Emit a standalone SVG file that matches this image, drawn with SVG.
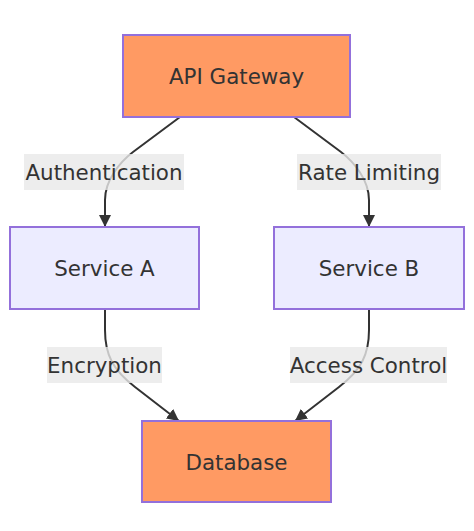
<svg xmlns="http://www.w3.org/2000/svg" width="474" height="531" viewBox="0 0 474 531">
<style>
.node rect{stroke:#9370DB;stroke-width:2}
.hot rect{fill:#FF9A63}
.svc rect{fill:#ECECFF}
text{font-family:"DejaVu Sans",Verdana,sans-serif;font-size:21.4px;fill:#333;text-anchor:middle;dominant-baseline:central}
.edge{fill:none;stroke:#333;stroke-width:2}
.lbl rect{fill:#e8e8e8;fill-opacity:0.8}
</style>
<defs>
<marker id="arr" viewBox="0 0 10 10" refX="10" refY="5" markerWidth="12" markerHeight="12" markerUnits="userSpaceOnUse" orient="auto">
<path d="M0,0 L10,5 L0,10 z" fill="#333"/>
</marker>
</defs>
<rect width="474" height="531" fill="#fff"/>
<g id="connectors">
<path class="edge" d="M180,117 L133,152 C120,162 105,180 105,200 L105,227" marker-end="url(#arr)"/>
<path class="edge" d="M294,117 L341,152 C354,162 369,180 369,200 L369,227" marker-end="url(#arr)"/>
<path class="edge" d="M105,309 L105,330 C105,355 113,370 135,387 L179,421" marker-end="url(#arr)"/>
<path class="edge" d="M369,309 L369,330 C369,355 361,370 339,387 L295,421" marker-end="url(#arr)"/>
</g>
<g id="labels">
<g id="label-auth" class="lbl"><rect x="24" y="154" width="160" height="36"/><text x="104" y="172">Authentication</text></g>
<g id="label-rate" class="lbl"><rect x="297" y="154" width="144" height="36"/><text x="369" y="172">Rate Limiting</text></g>
<g id="label-enc" class="lbl"><rect x="47" y="347" width="115" height="36"/><text x="104.5" y="365">Encryption</text></g>
<g id="label-acc" class="lbl"><rect x="290" y="347" width="157" height="36"/><text x="368.5" y="365">Access Control</text></g>
</g>
<g id="api-gateway" class="node hot"><rect x="123" y="35" width="227" height="82"/><text x="236.5" y="76">API Gateway</text></g>
<g id="service-a" class="node svc"><rect x="10" y="227" width="189" height="82"/><text x="104.5" y="268">Service A</text></g>
<g id="service-b" class="node svc"><rect x="274" y="227" width="190" height="82"/><text x="369" y="268">Service B</text></g>
<g id="database" class="node hot"><rect x="142" y="421" width="189" height="81"/><text x="236.5" y="462">Database</text></g>
</svg>
